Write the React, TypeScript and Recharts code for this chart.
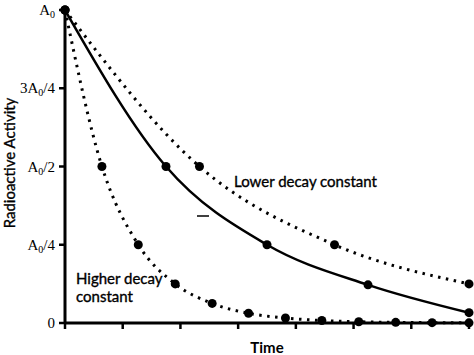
import React from 'react';
import { LineChart, Line, XAxis, YAxis, Customized } from 'recharts';

// time in arbitrary units (x axis has 7 unlabeled ticks), activity as fraction of A0
const lowerTime = [0, 2.33, 4.67, 7];
const lowerActivity = [1, 0.5, 0.25, 0.125];

const midTime = [0, 1.75, 3.5, 5.25, 7];
const midActivity = [1, 0.5, 0.25, 0.122, 0.033];

const higherTime = [0, 0.64, 1.27, 1.91, 2.55, 3.18, 3.82, 4.45, 5.09, 5.73, 6.36, 7];
const higherActivity = [1, 0.5, 0.25, 0.125, 0.0625, 0.031, 0.016, 0.008, 0.004, 0.002, 0.001, 0.0005];

const xTicks = [0, 1, 2, 3, 4, 5, 6, 7];
const yTicks = [0, 0.25, 0.5, 0.75, 1];
// [before subscript, subscript, after subscript]
const yTickLabels = [
  ['0', '', ''],
  ['A', '0', '/4'],
  ['A', '0', '/2'],
  ['3A', '0', '/4'],
  ['A', '0', ''],
];

const lowerData = lowerTime.map((t, i) => ({ t, a: lowerActivity[i] }));
const midData = midTime.map((t, i) => ({ t, a: midActivity[i] }));
const higherData = higherTime.map((t, i) => ({ t, a: higherActivity[i] }));

const SANS = 'Lato, "Open Sans", sans-serif';
const SERIF = '"Liberation Serif", "DejaVu Serif", serif';

const YTick = (props: any) => {
  const { x, y, payload } = props;
  const idx = yTicks.indexOf(payload.value);
  const [a, sub, b] = yTickLabels[idx] || [String(payload.value), '', ''];
  return (
    <text x={x} y={y} dy={5} textAnchor="end" fill="#000" fontFamily={SERIF} fontSize={15}>
      <tspan>{a}</tspan>
      {sub && <tspan dy={3} fontSize={10}>{sub}</tspan>}
      {b && <tspan dy={-3}>{b}</tspan>}
    </text>
  );
};

// text is a bit heavier in the original than Lato regular
const heavy = { stroke: '#000', strokeWidth: 0.35 };

const Labels = () => (
  <g fontFamily={SANS} fill="#000">
    <text x={14.5} y={163} transform="rotate(-90, 14.5, 163)" textAnchor="middle" fontSize={15} {...heavy}>
      Radioactive Activity
    </text>
    <text x={267} y={353} textAnchor="middle" fontSize={15} fontWeight={700}>Time</text>
    <text x={234} y={187} fontSize={15} {...heavy}>Lower decay constant</text>
    <text x={76} y={284} fontSize={15} {...heavy}>Higher decay</text>
    <text x={76} y={302} fontSize={15} {...heavy}>constant</text>
    <line x1={197} y1={216} x2={209} y2={216} stroke="#000" strokeWidth={1.5} />
  </g>
);

const dotStyle = { r: 4.5, fill: '#000', stroke: '#000', strokeWidth: 0 };

export default function App() {
  return (
    <div style={{ position: 'absolute', left: 0, top: 0, background: '#fff' }}>
      <LineChart width={474} height={355} margin={{ top: 10, right: 5, bottom: 0, left: 5 }}>
        <XAxis
          type="number"
          dataKey="t"
          domain={[0, 7]}
          ticks={xTicks}
          tickFormatter={() => ''}
          height={32}
          tickSize={6}
          axisLine={{ stroke: '#000', strokeWidth: 3 }}
          tickLine={{ stroke: '#000', strokeWidth: 2.5 }}
          allowDuplicatedCategory={false}
        />
        <YAxis
          type="number"
          dataKey="a"
          domain={[0, 1]}
          ticks={yTicks}
          width={60}
          tickSize={6}
          tickMargin={4}
          tick={<YTick />}
          axisLine={{ stroke: '#000', strokeWidth: 3 }}
          tickLine={{ stroke: '#000', strokeWidth: 2.5 }}
        />
        <Line
          data={higherData}
          dataKey="a"
          type="monotone"
          stroke="#000"
          strokeWidth={3}
          strokeDasharray="2.5 5.5"
          dot={dotStyle}
          isAnimationActive={false}
        />
        <Line
          data={lowerData}
          dataKey="a"
          type="monotone"
          stroke="#000"
          strokeWidth={3}
          strokeDasharray="2.5 5.5"
          dot={dotStyle}
          isAnimationActive={false}
        />
        <Line
          data={midData}
          dataKey="a"
          type="monotone"
          stroke="#000"
          strokeWidth={2.5}
          dot={dotStyle}
          isAnimationActive={false}
        />
        <Customized component={Labels} />
      </LineChart>
    </div>
  );
}
